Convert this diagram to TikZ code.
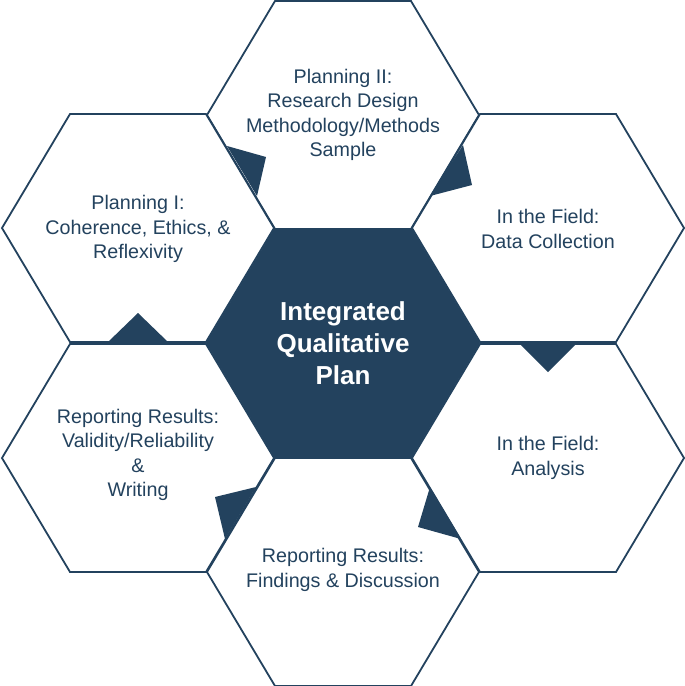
\documentclass[tikz,border=0pt]{standalone}
\usepackage{fontspec}
\setmainfont{Liberation Sans}
\definecolor{navy}{HTML}{23425E}
\begin{document}
\begin{tikzpicture}[x=1pt,y=-1pt,
  hexline/.style={draw=navy,line width=1.8pt,fill=white,line join=miter},
  lbl/.style={text=navy,font=\fontsize{19.7}{24.5}\selectfont,align=center},
  tri/.style={fill=navy,draw=none}]
\useasboundingbox (0,0) rectangle (685,686);
\newcommand{\hexat}[3]{%
  \path[#3] (#1-136,#2) -- (#1-68,#2-114) -- (#1+68,#2-114) -- (#1+136,#2) -- (#1+68,#2+114) -- (#1-68,#2+114) -- cycle;}
\hexat{343}{115}{hexline}
\hexat{548}{228}{hexline}
\hexat{548}{458}{hexline}
\hexat{343}{572}{hexline}
\hexat{138}{458}{hexline}
\hexat{138}{228}{hexline}
\hexat{343}{343}{hexline,fill=navy}
\node[lbl] (t) at (343,115) {Planning II:\\Research Design\\Methodology/Methods\\Sample};
\node[lbl] (ur) at (548,229) {In the Field:\\Data Collection};
\node[lbl] (lr) at (548,458) {In the Field:\\Analysis};
\node[lbl] (b) at (343,570) {Reporting Results:\\Findings \& Discussion};
\node[lbl] (ll) at (138,455) {Reporting Results:\\Validity/Reliability\\\&\\Writing};
\node[lbl] (ul) at (138,229) {Planning I:\\Coherence, Ethics, \&\\Reflexivity};
\node[text=white,font=\bfseries\fontsize{26}{32}\selectfont,align=center] (c) at (343,343) {Integrated\\Qualitative\\Plan};
% triangles
\fill[tri] (108,342) -- (168,342) -- (138,313) -- cycle;
\fill[tri] (227,146) -- (257,196) -- (266,157) -- cycle;
\fill[tri] (463,145) -- (430,196) -- (472,185) -- cycle;
\fill[tri] (518,342) -- (578,342) -- (548,372) -- cycle;
\fill[tri] (461,539) -- (430,487) -- (418,527) -- cycle;
\fill[tri] (225,539) -- (256,487) -- (215,497) -- cycle;
\end{tikzpicture}
\end{document}
